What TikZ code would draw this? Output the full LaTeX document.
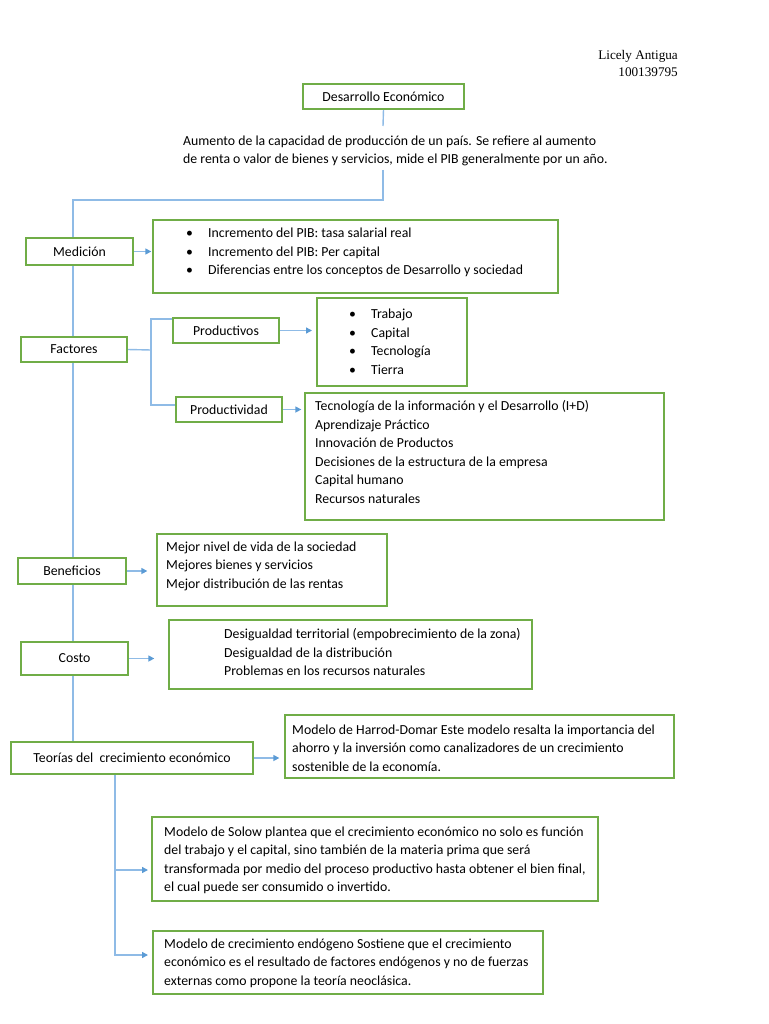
\documentclass[tikz,border=0pt]{standalone}
\usepackage{fontspec}
\setmainfont{Carlito}
\newfontfamily\timesfont{Liberation Serif}
\usetikzlibrary{arrows.meta,backgrounds}
\definecolor{boxgreen}{HTML}{70AD47}
\definecolor{linkblue}{HTML}{5B9BD5}
\definecolor{linklight}{HTML}{8FBBE6}
\tikzset{
  every node/.style={font=\fontsize{13.8}{18.5}\selectfont},
  box/.style={draw=boxgreen, line width=1.3pt, fill=white, inner sep=0pt},
  link/.style={draw=linklight, line width=1.4pt},
  arr/.style={link, -{Triangle[length=6pt,width=6pt,color=linkblue]}},
  txt/.style={anchor=west, align=left, inner sep=0pt}
}
\newcommand{\bul}{\makebox[22pt][l]{\textbullet}}
\begin{document}
\begin{tikzpicture}[x=1pt,y=-1pt]
\useasboundingbox (0,0) rectangle (768,1024);
\node[anchor=east, align=right, inner sep=0pt, font=\timesfont\fontsize{13.2}{17}\selectfont] (autor) at (678,63.5) {Licely Antigua\\100139795};
\node[box, minimum width=161, minimum height=25] (titulo) at (383.5,96.5) {Desarrollo Económico};
\node[txt] (desc) at (183,151) {Aumento de la capacidad de producción de un país. Se refiere al aumento\\de renta o valor de bienes y servicios, mide el PIB generalmente por un año.};
\coordinate (d0) at (383,126);
\coordinate (d1) at (383,170);
\coordinate (eje) at (73,200);

\node[box, minimum width=107, minimum height=27] (medicion) at (79.5,251.5) {Medición};
\node[box, minimum width=405, minimum height=73] (medlista) at (355.5,256.5) {};
\node[txt] (medtxt) at (186,252.5) {\bul Incremento del PIB: tasa salarial real\\\bul Incremento del PIB: Per capital\\\bul Diferencias entre los conceptos de Desarrollo y sociedad};

\node[box, minimum width=106, minimum height=25] (factores) at (74,349.5) {Factores};
\node[box, minimum width=106, minimum height=25] (productivos) at (226,330.5) {Productivos};
\node[box, line width=2pt, minimum width=150, minimum height=88] (prodlista) at (392,342) {};
\node[txt] (prodtxt) at (349,342) {\bul Trabajo\\\bul Capital\\\bul Tecnología\\\bul Tierra};
\node[box, minimum width=106, minimum height=25] (productividad) at (229,409.5) {Productividad};
\node[box, minimum width=359, minimum height=127] (pdlista) at (484.5,456.5) {};
\node[txt] (pdtxt) at (315,452) {Tecnología de la información y el Desarrollo (I+D)\\Aprendizaje Práctico\\Innovación de Productos\\Decisiones de la estructura de la empresa\\Capital humano\\Recursos naturales};
\coordinate (rama) at (151,350);
\coordinate (r1) at (173,319);
\coordinate (r2) at (176,405);

\node[box, minimum width=108, minimum height=26] (beneficios) at (72,571) {Beneficios};
\node[box, minimum width=230, minimum height=72] (benlista) at (272,570) {};
\node[txt] (bentxt) at (166,566) {Mejor nivel de vida de la sociedad\\Mejores bienes y servicios\\Mejor distribución de las rentas};

\node[box, minimum width=107, minimum height=33] (costo) at (74.5,658.5) {Costo};
\node[box, minimum width=363, minimum height=69] (costlista) at (350.5,654.5) {};
\node[txt] (costtxt) at (224,652) {Desigualdad territorial (empobrecimiento de la zona)\\Desigualdad de la distribución\\Problemas en los recursos naturales};

\node[box, minimum width=242, minimum height=32] (teorias) at (132,758) {Teorías del\ \ crecimiento económico};
\node[box, minimum width=389, minimum height=63] (harrod) at (479.5,746.5) {};
\node[txt] (harrodtxt) at (292,748) {Modelo de Harrod-Domar Este modelo resalta la importancia del\\ahorro y la inversión como canalizadores de un crecimiento\\sostenible de la economía.};
\node[box, minimum width=446, minimum height=84] (solow) at (375,859) {};
\node[txt] (solowtxt) at (164,860.5) {Modelo de Solow plantea que el crecimiento económico no solo es función\\del trabajo y el capital, sino también de la materia prima que será\\transformada por medio del proceso productivo hasta obtener el bien final,\\el cual puede ser consumido o invertido.};
\node[box, minimum width=390, minimum height=63] (endogeno) at (348,962.5) {};
\node[txt] (endotxt) at (164,963) {Modelo de crecimiento endógeno Sostiene que el crecimiento\\económico es el resultado de factores endógenos y no de fuerzas\\externas como propone la teoría neoclásica.};
\coordinate (eje2) at (115,774);
\coordinate (s1) at (152,870);
\coordinate (s2) at (153,955);

\begin{scope}[on background layer]
\draw[link] (titulo.south) -- (d0);
\draw[link] (d1) |- (eje) -- (eje |- teorias.north);
\draw[arr, shorten >=1] (medicion.east) -- (medlista.west |- medicion.east);
\draw[link] (factores.east) -- (rama);
\draw[link] (r1) -| (rama) |- (r2);
\draw[arr, shorten >=4] (productivos.east) -- (prodlista.west |- productivos.east);
\draw[arr, shorten >=3] (productividad.east) -- (pdlista.west |- productividad.east);
\draw[arr, shorten >=9] (beneficios.east) -- (benlista.west |- beneficios.east);
\draw[arr, shorten >=14] (costo.east) -- (costlista.west |- costo.east);
\draw[arr, shorten >=5] (teorias.east) -- (harrod.west |- teorias.east);
\draw[arr, shorten >=4] (eje2) |- (s1);
\draw[arr, shorten >=5] (eje2) |- (s2);
\end{scope}
\end{tikzpicture}
\end{document}
